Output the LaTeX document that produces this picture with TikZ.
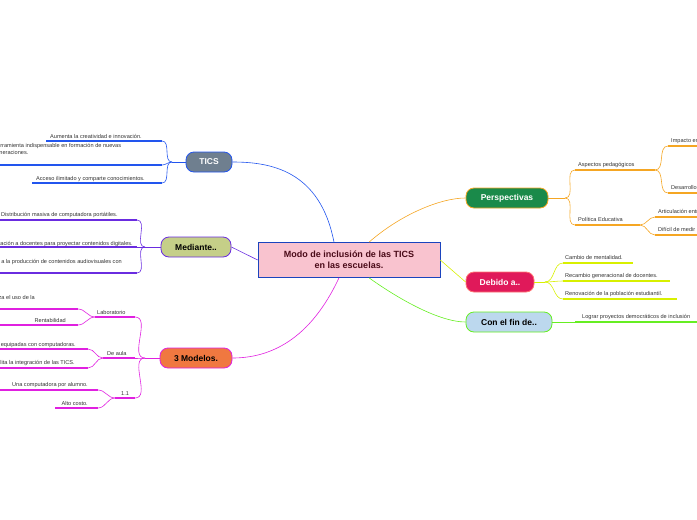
\documentclass[tikz,border=0pt]{standalone}
\usepackage{fontspec}
\setmainfont{Liberation Sans}
\begin{document}
\begin{tikzpicture}[x=1pt,y=-1pt,
  main/.style={rounded corners=8pt,draw,line width=0.8pt,minimum height=20pt,font=\fontsize{8.5}{10}\selectfont\bfseries,inner xsep=8pt},
  leaf/.style={font=\fontsize{5.6}{6.6}\selectfont,text=black!80,inner sep=0pt},
  br/.style={line width=0.6pt},
  ul/.style={line width=1.4pt}]
\useasboundingbox (0,0) rectangle (697,520);
\definecolor{cblue}{HTML}{2255EE}\definecolor{cpur}{HTML}{6A2CE0}\definecolor{cmag}{HTML}{E020E0}
\definecolor{corg}{HTML}{F5A623}\definecolor{cyel}{HTML}{D8F000}\definecolor{cgrn}{HTML}{66EE22}
\definecolor{fgray}{HTML}{6F7F8F}\definecolor{fol}{HTML}{C5CF88}\definecolor{forg}{HTML}{F07840}
\definecolor{fgrn}{HTML}{1A8A4A}\definecolor{fred}{HTML}{E0195A}\definecolor{fcy}{HTML}{BCD8EE}
\definecolor{fpink}{HTML}{F9C3CF}\definecolor{tdark}{HTML}{4A0A18}
% central
\node[draw=cblue!80!black,fill=fpink,line width=0.6pt,minimum width=182pt,minimum height=35pt,align=center,text=tdark,font=\fontsize{9}{11}\selectfont\bfseries] (c) at (349,260) {Modo de inclusión de las TICS\\en las escuelas.};
\node[main,fill=fgray,draw=cblue,text=white,minimum width=46pt] (t) at (209,162) {TICS};
\node[main,fill=fol,draw=cpur,minimum width=70pt] (m) at (196,247) {Mediante..};
\node[main,fill=forg,draw=cmag,minimum width=72pt] (mo) at (196,358) {3 Modelos.};
\node[main,fill=fgrn,draw=corg,text=white,minimum width=82pt] (p) at (507,198) {Perspectivas};
\node[main,fill=fred,draw=pink!60!red,text=white,minimum width=68pt] (d) at (500,282) {Debido a..};
\node[main,fill=fcy,draw=cgrn,minimum width=86pt] (f) at (509,322) {Con el fin de..};
\draw[br,cblue] (c.north) ++(-15,0) coordinate (c1) .. controls (320,170) and (270,162) .. (t.east);
\draw[br,cpur] (c.west) -- (m.east);
\draw[br,cmag] (c.south) ++(-10,0) coordinate (c2) .. controls (310,340) and (270,358) .. (mo.east);
\draw[br,corg] (c.north) ++(20,0) coordinate (c3) .. controls (400,215) and (440,198) .. (p.west);
\draw[br,cyel] (c.east) -- (d.west);
\draw[br,cgrn] (c.south) ++(20,0) coordinate (c4) .. controls (400,300) and (440,322) .. (f.west);
% TICS leaves
\coordinate (tj) at (172,162);
\draw[br,cblue] (t.west) -- (tj);
\foreach \y/\x in {141/46,165/0,183/32}{\draw[br,cblue] (tj) to[out=180,in=0] (162,\y); \draw[ul,cblue] (162,\y) -- (\x,\y);}
\node[leaf,anchor=base west] (t1) at (50,138) {Aumenta la creatividad e innovación.};
\node[leaf,anchor=base west,align=left] (t2) at (-7,154) {Herramienta indispensable en formación de nuevas\\ generaciones.};
\node[leaf,anchor=base west] (t3) at (36,180) {Acceso ilimitado y comparte conocimientos.};
% Mediante leaves
\coordinate (mj) at (145,247);
\draw[br,cpur] (m.west) -- (mj);
\foreach \y in {220,247,273}{\draw[br,cpur] (mj) to[out=180,in=0] (137,\y); \draw[ul,cpur] (137,\y) -- (0,\y);}
\node[leaf,anchor=base west] (m1) at (1,216) {Distribución masiva de computadora portátiles.};
\node[leaf,anchor=base east] (m2) at (133,245) {Capacitación a docentes para proyectar contenidos digitales.};
\node[leaf,anchor=base east] (m3) at (122,263) {Estímulo a la producción de contenidos audiovisuales con};
% 3 Modelos
\coordinate (oj) at (145,358);
\draw[br,cmag] (mo.west) -- (oj);
\foreach \y/\x in {317/95,358/103,398/115}{\draw[br,cmag] (oj) to[out=180,in=0] (135,\y); \draw[ul,cmag] (135,\y) -- (\x,\y);}
\node[leaf,anchor=base west] (l) at (97,314) {Laboratorio};
\node[leaf,anchor=base west] (a) at (107,355) {De aula};
\node[leaf,anchor=base west] (u) at (121,395) {1.1};
\foreach \y/\x in {309/0,325/0}{\draw[br,cmag] (95,317) to[out=180,in=0] (78,\y); \draw[ul,cmag] (78,\y) -- (\x,\y);}
\foreach \y/\x in {349/0,368/0}{\draw[br,cmag] (103,358) to[out=180,in=0] (88,\y); \draw[ul,cmag] (88,\y) -- (\x,\y);}
\foreach \y/\x in {390/0,408/55}{\draw[br,cmag] (115,398) to[out=180,in=0] (98,\y); \draw[ul,cmag] (98,\y) -- (\x,\y);}
\node[leaf,anchor=base east] (l1) at (35,299) {Se optimiza el uso de la};
\node[leaf,anchor=base east] (l2) at (66,322) {Rentabilidad};
\node[leaf,anchor=base east] (a1) at (76,346) {Aulas equipadas con computadoras.};
\node[leaf,anchor=base east] (a2) at (75,364) {Facilita la integración de las TICS.};
\node[leaf,anchor=base east] (u1) at (88,386) {Una computadora por alumno.};
\node[leaf,anchor=base east] (u2) at (88,405) {Alto costo.};
% Perspectivas
\coordinate (pj) at (565,198);
\draw[br,corg] (p.east) -- (pj);
\foreach \y/\x in {170/655,225/640}{\draw[br,corg] (pj) to[out=0,in=180] (575,\y); \draw[ul,corg] (575,\y) -- (\x,\y);}
\node[leaf,anchor=base west] (p1) at (578,166) {Aspectos pedagógicos};
\node[leaf,anchor=base west] (p2) at (578,221) {Política Educativa};
\foreach \y in {146,193}{\draw[br,corg] (655,170) to[out=0,in=180] (668,\y); \draw[ul,corg] (668,\y) -- (697,\y);}
\foreach \y in {217,235}{\draw[br,corg] (640,225) to[out=0,in=180] (655,\y); \draw[ul,corg] (655,\y) -- (697,\y);}
\node[leaf,anchor=base west] (p11) at (671,142) {Impacto en};
\node[leaf,anchor=base west] (p12) at (671,189) {Desarrollo};
\node[leaf,anchor=base west] (p21) at (658,213) {Articulación entre};
\node[leaf,anchor=base west] (p22) at (658,231) {Difícil de medir};
% Debido
\coordinate (dj) at (545,282);
\draw[br,cyel] (d.east) -- (dj);
\foreach \y/\x in {263/633,281/670,299/677}{\draw[br,cyel] (dj) to[out=0,in=180] (563,\y); \draw[ul,cyel] (563,\y) -- (\x,\y);}
\node[leaf,anchor=base west] (d1) at (565,259) {Cambio de mentalidad.};
\node[leaf,anchor=base west] (d2) at (565,277) {Recambio generacional de docentes.};
\node[leaf,anchor=base west] (d3) at (565,295) {Renovación de la población estudiantil.};
% Con el fin
\draw[br,cgrn] (f.east) -- (575,322);
\draw[ul,cgrn] (575,322) -- (697,322);
\node[leaf,anchor=base west] (f1) at (582,318) {Lograr proyectos democráticos de inclusión};
\end{tikzpicture}
\end{document}
